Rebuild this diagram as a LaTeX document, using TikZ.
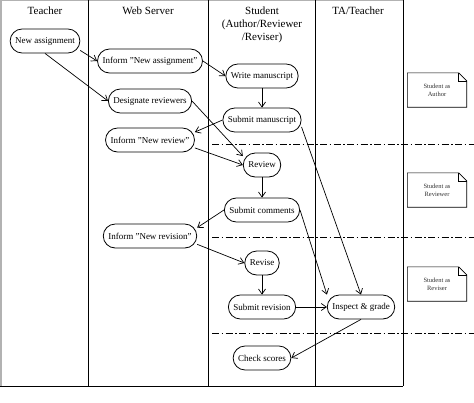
\documentclass[tikz,border=0pt]{standalone}
\usepackage{fontspec}
\setmainfont{Liberation Serif}
\usetikzlibrary{arrows.meta}

\begin{document}
\begin{tikzpicture}[x=1pt,y=-1pt,
        lane/.style={line width=1pt},
        act/.style={draw,line width=0.8pt,rounded corners=12pt,minimum height=24pt,inner xsep=5pt,font=\fontsize{9}{10}\selectfont},
        flow/.style={line width=0.7pt,-{Straight Barb[length=5pt,width=7pt]}},
        phase/.style={line width=0.9pt,dash pattern=on 7pt off 2.5pt on 1.5pt off 2.5pt},
        memo/.style={minimum width=59pt,minimum height=34pt,align=center,text=black!80,font=\fontsize{6.5}{8}\selectfont},
        lanehead/.style={font=\fontsize{11}{13}\selectfont,align=center}
    ]
        \useasboundingbox (0,0) rectangle (474,402);
        % swimlanes
        \draw[gray!60,line width=2pt] (1,0) -- (1,386);
        \draw[gray!60,line width=1.5pt] (0,0.5) -- (403,0.5);
        \draw[lane] (0,386) -- (403,386);
        \foreach \x in {88,208,315,403}
            \draw[lane] (\x,0) -- (\x,386);
        \node[lanehead] (hteach) at (45,11) {Teacher};
        \node[lanehead] (hweb) at (148,11) {Web Server};
        \node[lanehead] (hstud) at (262,25) {Student\\(Author/Reviewer\\/Reviser)};
        \node[lanehead] (hta) at (358,11) {TA/Teacher};
        % phases
        \foreach \y in {144,237,333}
            \draw[phase] (212,\y) -- (474,\y);
        % activities
        \node[act] (newasg) at (45,41) {New assignment};
        \node[act] (infasg) at (150,61) {Inform ''New assignment''};
        \node[act] (desrev) at (150,101) {Designate reviewers};
        \node[act] (infrev) at (150,140) {Inform ''New review''};
        \node[act] (infrevis) at (150,236) {Inform ''New revision''};
        \node[act] (write) at (262,76) {Write manuscript};
        \node[act] (submanu) at (262,120) {Submit manuscript};
        \node[act] (review) at (262,165) {Review};
        \node[act] (subcom) at (262,210) {Submit comments};
        \node[act] (revise) at (262,263) {Revise};
        \node[act] (subrevis) at (262,307) {Submit revision};
        \node[act] (check) at (262,358) {Check scores};
        \node[act] (inspect) at (361,307) {Inspect \& grade};
        % notes
        \node[memo] (author) at (437,90) {Student as\\Author};
        \node[memo] (reviewer) at (437,190) {Student as\\Reviewer};
        \node[memo] (reviser) at (437,284) {Student as\\Reviser};
        \foreach \n in {author,reviewer,reviser}{
            \draw[line width=0.6pt] ([xshift=-8pt]\n.north east) -- (\n.north west) -- (\n.south west)
                -- (\n.south east) -- ([yshift=-8pt]\n.north east) -- cycle;
            \draw[line width=0.6pt] ([xshift=-8pt]\n.north east) |- ([yshift=-8pt]\n.north east);
        }
        % flows
        \draw[flow] (newasg.-15) -- (infasg.west);
        \draw[flow] (newasg.south) -- (desrev.west);
        \draw[flow] (infasg.east) -- (write.west);
        \draw[flow] (write) -- (submanu);
        \draw[flow] (submanu.west) -- (infrev.10);
        \draw[flow] (desrev.east) -- (review.155);
        \draw[flow] (infrev.-10) -- (review.west);
        \draw[flow] (review) -- (subcom);
        \draw[flow] (subcom.west) -- (infrevis.10);
        \draw[flow] (infrevis.-10) -- (revise.west);
        \draw[flow] (revise) -- (subrevis);
        \draw[flow] (subrevis) -- (inspect);
        \draw[flow] (submanu.-10) -- (inspect.north);
        \draw[flow] (subcom.east) -- (inspect.160);
        \draw[flow] (inspect.south) -- (check.east);
    \end{tikzpicture}
\end{document}
